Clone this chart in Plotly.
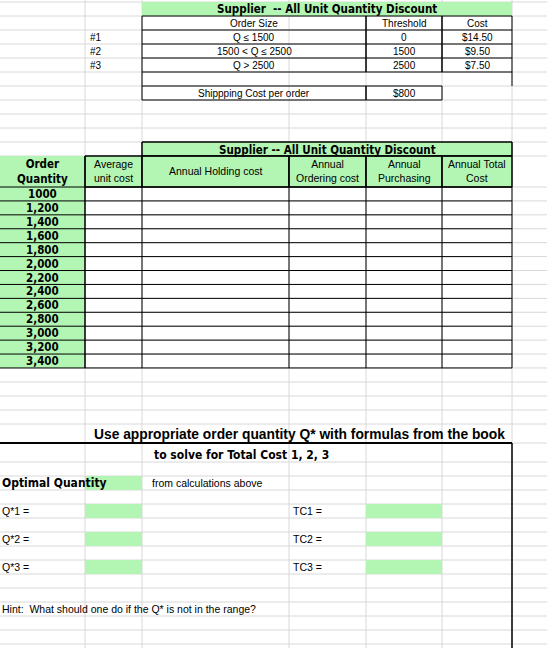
import plotly.graph_objects as go

# ---- data ----
tier_labels = ["#1", "#2", "#3"]
order_sizes = ["Q ≤ 1500", "1500 < Q ≤ 2500", "Q > 2500"]
thresholds = ["0", "1500", "2500"]
unit_costs = ["$14.50", "$9.50", "$7.50"]
shipping_cost = "$800"
order_quantities = ["1000", "1,200", "1,400", "1,600", "1,800", "2,000", "2,200",
                    "2,400", "2,600", "2,800", "3,000", "3,200", "3,400"]
table_headers = ["Average<br>unit cost", "Annual Holding cost", "Annual<br>Ordering cost",
                 "Annual<br>Purchasing", "Annual Total<br>Cost"]
q_labels = ["Q*1 =", "Q*2 =", "Q*3 ="]
tc_labels = ["TC1 =", "TC2 =", "TC3 ="]

# ---- layout geometry ----
W, H = 547, 648
cols = [0, 85, 142, 289, 366, 442, 512, 547]
GREEN = "#b3f5b3"
GRID = "#d8d8d8"
FONT = "Liberation Sans"

rows = [2, 16, 30, 44, 58, 72, 86, 100, 114, 128, 142, 156, 187]
for i in range(1, 14):
    rows.append(187 + 13.92 * i)
rows += [382, 396, 410, 424, 443, 462]
y = 462
while y < H:
    y += 14
    rows.append(y)

shapes = []
ann = []

def line(x0, y0, x1, y1, color="black", w=1):
    shapes.append(dict(type="line", x0=x0, y0=y0, x1=x1, y1=y1,
                       line=dict(color=color, width=w), layer="above"))

def rect(x0, y0, x1, y1, fill=None, border=True):
    shapes.append(dict(type="rect", x0=x0, y0=y0, x1=x1, y1=y1,
                       fillcolor=fill if fill else "rgba(0,0,0,0)",
                       line=dict(color="black" if border else "rgba(0,0,0,0)", width=1),
                       layer="above" if not fill else "below"))
    if fill and border:
        shapes.append(dict(type="rect", x0=x0, y0=y0, x1=x1, y1=y1,
                           line=dict(color="black", width=1), layer="above"))

def text(x, y, s, size=10, bold=False, anchor="center", family=FONT):
    ann.append(dict(x=x, y=y, text=("<b>%s</b>" % s) if bold else s, showarrow=False,
                    xanchor=anchor, yanchor="middle",
                    font=dict(family=family, size=size, color="black")))

# background grid
for c in cols[1:-1]:
    shapes.append(dict(type="line", x0=c, x1=c, y0=0, y1=H, line=dict(color=GRID, width=1), layer="below"))
for r in rows:
    shapes.append(dict(type="line", x0=0, x1=W, y0=r, y1=r, line=dict(color=GRID, width=1), layer="below"))

# ---- top table ----
rect(142, 2, 512, 16, fill=GREEN, border=False)
text(327, 9, "Supplier  -- All Unit Quantity Discount", 11.5, True, family="DejaVu Sans Condensed")
rect(142, 16, 366, 72)
rect(366, 16, 442, 72)
rect(442, 16, 512, 72)
for r in [30, 44, 58]:
    line(142, r, 512, r)
text(254, 23, "Order Size")
text(404, 23, "Threshold")
text(477, 23, "Cost")
for i in range(3):
    yc = 37 + 14 * i
    text(88, yc, tier_labels[i], anchor="left")
    text(254, yc, order_sizes[i])
    text(404, yc, thresholds[i])
    text(477, yc, unit_costs[i])
line(142, 72, 142, 86)
line(512, 72, 512, 86)
rect(142, 86, 366, 100)
rect(366, 86, 442, 100)
text(254, 93, "Shippping Cost per order")
text(404, 93, shipping_cost)

# ---- main table ----
rect(142, 142, 512, 156, fill=GREEN)
text(327, 149.5, "Supplier -- All Unit Quantity Discount", 11.5, True, family="DejaVu Sans Condensed")
rect(0, 156, 85, 368, fill=GREEN, border=False)
line(85, 156, 85, 368)
for j in range(1, 6):
    rect(cols[j], 156, cols[j + 1], 187, fill=GREEN)
text(42, 171, "Order<br>Quantity", 11.5, True, family="DejaVu Sans Condensed")
for j, h in enumerate(table_headers):
    text((cols[j + 1] + cols[j + 2]) / 2, 171, h, 10.5)
for i, q in enumerate(order_quantities):
    y0 = 187 + 13.92 * i
    text(42, y0 + 7, q, 11.5, True, family="DejaVu Sans Condensed")
    line(0, y0 + 13.92, 512, y0 + 13.92)
for c in cols[1:7]:
    line(c, 187, c, 368)
line(0, 187, 512, 187)

# ---- bottom section ----
text(92, 434, "Use appropriate order quantity Q* with formulas from the book", 13.8, True, anchor="left")
line(0, 443, 512, 443, w=2)
line(512, 443, 512, H, w=1.5)
text(152, 455, "to solve for Total Cost 1, 2, 3", 12, True, anchor="left", family="DejaVu Sans Condensed")
shapes.append(dict(type="rect", x0=85, x1=142, y0=476, y1=490, fillcolor=GREEN, line=dict(width=0), layer="below"))
text(0, 483, "Optimal Quantity", 12, True, anchor="left", family="DejaVu Sans Condensed")
text(150, 483, "from calculations above", 10.5, anchor="left")
for i in range(3):
    yc = 511 + 28 * i
    shapes.append(dict(type="rect", x0=85, x1=142, y0=yc - 7, y1=yc + 7, fillcolor=GREEN, line=dict(width=0), layer="below"))
    shapes.append(dict(type="rect", x0=366, x1=442, y0=yc - 7, y1=yc + 7, fillcolor=GREEN, line=dict(width=0), layer="below"))
    text(0, yc, q_labels[i], 10.5, anchor="left")
    text(291, yc, tc_labels[i], 10.5, anchor="left")
text(0, 609, "Hint:  What should one do if the Q* is not in the range?", 10.5, anchor="left")

fig = go.Figure()
fig.update_layout(width=W, height=H, margin=dict(l=0, r=0, t=0, b=0),
                  paper_bgcolor="white", plot_bgcolor="white",
                  xaxis=dict(range=[0, W], visible=False, fixedrange=True),
                  yaxis=dict(range=[H, 0], visible=False, fixedrange=True),
                  shapes=shapes, annotations=ann, showlegend=False)
fig.write_html("out.html", config={"displayModeBar": False},
               post_script="document.body.style.margin='0';document.body.style.overflow='hidden';")
